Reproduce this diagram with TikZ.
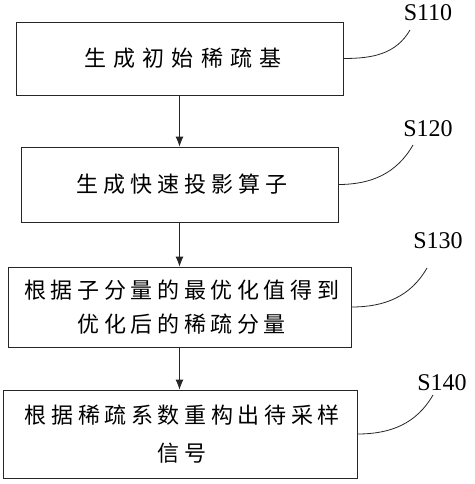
\documentclass[tikz,border=0pt]{standalone}
\usepackage{fontspec}
\setmainfont{Liberation Serif}
\newfontfamily\cjk{Noto Sans CJK SC}
\usetikzlibrary{arrows.meta}
\begin{document}
\begin{tikzpicture}[x=1pt,y=-1pt,
  stepbox/.style={draw=black!85, line width=0.8pt, inner sep=0pt, align=center},
  lbl/.style={inner sep=0pt, font=\fontsize{24}{24}\selectfont},
  conn/.style={draw=black!85, line width=0.8pt},
  arr/.style={conn, -{Latex[length=10pt,width=8pt]}}]
\useasboundingbox[fill=white] (0,0) rectangle (474,484);

\node[stepbox, minimum width=327pt, minimum height=73pt,
  font=\cjk\addfontfeature{LetterSpace=32}\fontsize{22}{34}\selectfont] (b1) at (179.5,58.5) {\hspace{7pt}生成初始稀疏基};
\node[stepbox, minimum width=317pt, minimum height=75pt,
  font=\cjk\addfontfeature{LetterSpace=23}\fontsize{22}{34}\selectfont] (b2) at (179.5,184.5) {\hspace{5pt}生成快速投影算子};
\node[stepbox, minimum width=343pt, minimum height=80pt,
  font=\cjk\addfontfeature{LetterSpace=21}\fontsize{22}{34}\selectfont] (b3) at (179.5,307) {\hspace{4.5pt}根据子分量的最优化值得到\\\hspace{4.5pt}优化后的稀疏分量};
\node[stepbox, minimum width=354pt, minimum height=88pt,
  font=\cjk\addfontfeature{LetterSpace=21}\fontsize{22}{38}\selectfont] (b4) at (180,434) {\hspace{4.5pt}根据稀疏系数重构出待采样\\\hspace{4.5pt}信号};

\draw[arr] (b1.south) -- (b1.south |- b2.north);
\draw[arr] (b2.south) -- (b2.south |- b3.north);
\draw[arr] (b3.south) -- (b3.south |- b4.north);

\node[lbl] (s1) at (428,12.5) {S110};
\node[lbl] (s2) at (428,129) {S120};
\node[lbl] (s3) at (438,241) {S130};
\node[lbl] (s4) at (442,383) {S140};

\coordinate (c1) at (410,30);
\coordinate (c2) at (413,145);
\coordinate (c3) at (427,268);
\coordinate (c4) at (433,395);

\draw[conn] (b1.east) to[out=0,in=-120] (c1);
\draw[conn] (b2.east) to[out=0,in=-120] (c2);
\draw[conn] (b3.east) to[out=0,in=-120] (c3);
\draw[conn] (b4.east) to[out=0,in=-120] (c4);
\end{tikzpicture}
\end{document}
